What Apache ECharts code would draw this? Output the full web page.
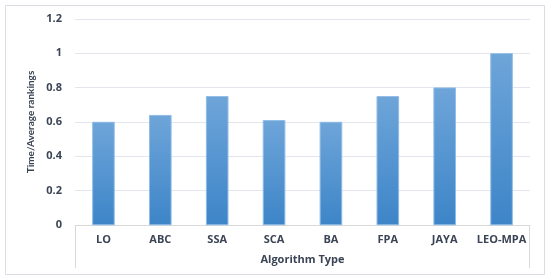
<!DOCTYPE html>
<html><head><meta charset="utf-8">
<script src="https://cdn.jsdelivr.net/npm/echarts@6/dist/echarts.min.js"></script>
<style>html,body{margin:0;padding:0;background:#fff}#c{width:550px;height:280px}</style>
</head><body><div id="c"></div>
<script>
const categories = ['LO','ABC','SSA','SCA','BA','FPA','JAYA','LEO-MPA'];
const values = [0.6,0.64,0.75,0.61,0.6,0.75,0.8,1.0];
const yTicks = [0,0.2,0.4,0.6,0.8,1,1.2];
const chart = echarts.init(document.getElementById('c'));
const font = '"Open Sans", sans-serif';
const txt = '#3b4455';
chart.setOption({
  animation:false,
  grid:{left:75,right:20,top:19,bottom:55},
  xAxis:{type:'category',data:categories,
    name:'Algorithm Type',nameLocation:'middle',nameGap:29,
    nameTextStyle:{fontFamily:font,fontWeight:'bold',fontSize:11,color:txt},
    axisLine:{lineStyle:{color:'#d9d9d9'}},axisTick:{show:false},
    axisLabel:{interval:0,fontFamily:font,fontWeight:'bold',fontSize:11,color:txt,margin:9}},
  yAxis:{type:'value',min:0,max:1.2,interval:0.2,
    name:'Time/Average rankings',nameLocation:'middle',nameGap:38,
    nameTextStyle:{fontFamily:'Lato, sans-serif',fontWeight:'bold',fontSize:10,color:txt},
    axisLine:{show:false},axisTick:{show:false},
    axisLabel:{fontFamily:font,fontWeight:'bold',fontSize:11,color:txt,margin:13,
      formatter:function(v){const t=yTicks.find(function(k){return Math.abs(k-v)<1e-9;});return String(t===undefined?v:t);}},
    splitLine:{lineStyle:{color:'#e4e6ee'}}},
  series:[{type:'bar',data:values,barWidth:'39%',
    itemStyle:{color:new echarts.graphic.LinearGradient(0,0,0,1,[
      {offset:0,color:'#6ea5d9'},{offset:1,color:'#3d85c8'}]),
      borderColor:'#8bbbe6',borderWidth:0.6}}]
});
const gl = 75, gr = 530, gb = 225;
chart.setOption({graphic:[
  {type:'rect',shape:{x:5.5,y:5.5,width:539,height:269},style:{fill:'none',stroke:'#dadde3',lineWidth:1},silent:true},
  {type:'line',shape:{x1:gl+0.5,y1:gb,x2:gl+0.5,y2:268},style:{stroke:'#d9d9d9',lineWidth:1}},
  {type:'line',shape:{x1:gr-0.5,y1:gb,x2:gr-0.5,y2:268},style:{stroke:'#d9d9d9',lineWidth:1}}
]});
</script></body></html>
